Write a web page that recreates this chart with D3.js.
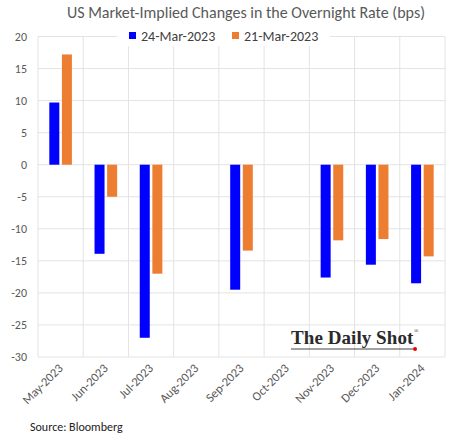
<!DOCTYPE html>
<html>
<head>
<meta charset="utf-8">
<script src="https://cdn.jsdelivr.net/npm/d3@7"></script>
<style>
  body { margin: 0; background: #fff; }
  svg { display: block; font-family: Calibri, Carlito, "Open Sans", sans-serif; }
</style>
</head>
<body>
<div id="chart"></div>
<script>
// Datos
const months = ["May-2023", "Jun-2023", "Jul-2023", "Aug-2023", "Sep-2023", "Oct-2023", "Nov-2023", "Dec-2023", "Jan-2024"];
const mar24 = [9.7, -13.9, -27.0, null, -19.5, null, -17.6, -15.6, -18.5];
const mar21 = [17.2, -5.0, -17.0, null, -13.4, null, -11.8, -11.6, -14.3];
const seriesNames = ["24-Mar-2023", "21-Mar-2023"];
const seriesColors = ["#0000ff", "#ed7d31"];
const yTicks = [20, 15, 10, 5, 0, -5, -10, -15, -20, -25, -30];

const width = 450, height = 436;
const margin = { top: 36.5, right: 5, bottom: 79, left: 38 };

const svg = d3.select("#chart").append("svg")
    .attr("width", width)
    .attr("height", height);

const x = d3.scaleBand()
    .domain(months)
    .range([margin.left, width - margin.right]);

const y = d3.scaleLinear()
    .domain([-30, 20])
    .range([height - margin.bottom, margin.top]);

const barW = 10, gap = 2.6;

// Cuadrícula horizontal
svg.append("g")
    .selectAll("line")
    .data(yTicks)
    .enter().append("line")
    .attr("x1", margin.left)
    .attr("x2", width - margin.right)
    .attr("y1", d => y(d))
    .attr("y2", d => y(d))
    .attr("stroke", "#e3e3e3")
    .attr("stroke-width", 1);

// Cuadrícula vertical (límites de categoría)
const bounds = months.map(m => x(m)).concat([width - margin.right]);
svg.append("g")
    .selectAll("line")
    .data(bounds)
    .enter().append("line")
    .attr("x1", d => d)
    .attr("x2", d => d)
    .attr("y1", y(20))
    .attr("y2", y(-30))
    .attr("stroke", "#e3e3e3")
    .attr("stroke-width", 1);

// Etiquetas del eje Y
svg.append("g")
    .selectAll("text")
    .data(yTicks)
    .enter().append("text")
    .attr("x", 27)
    .attr("y", d => y(d) + 4)
    .attr("text-anchor", "end")
    .attr("font-size", 12)
    .attr("fill", "#595959")
    .text(d => d);

// Barras
const series = [mar24, mar21];
series.forEach((vals, si) => {
    svg.append("g")
        .selectAll("rect")
        .data(months.map((m, i) => ({ m, v: vals[i] })).filter(d => d.v !== null))
        .enter().append("rect")
        .attr("x", d => x(d.m) + x.bandwidth() / 2 + (si === 0 ? -gap / 2 - barW : gap / 2))
        .attr("y", d => y(Math.max(0, d.v)))
        .attr("width", barW)
        .attr("height", d => Math.abs(y(d.v) - y(0)))
        .attr("fill", seriesColors[si]);
});

// Etiquetas del eje X (rotadas)
svg.append("g")
    .selectAll("text")
    .data(months)
    .enter().append("text")
    .attr("transform", d => `translate(${x(d) + x.bandwidth() / 2 + 3},${y(-30) + 12}) rotate(-45)`)
    .attr("text-anchor", "end")
    .attr("font-size", 12.5)
    .attr("fill", "#595959")
    .text(d => d);

// Título
svg.append("text")
    .attr("x", 246)
    .attr("y", 18)
    .attr("text-anchor", "middle")
    .attr("font-size", 16)
    .attr("fill", "#595959")
    .text("US Market-Implied Changes in the Overnight Rate (bps)");

// Leyenda
svg.append("rect")
    .attr("x", 117)
    .attr("y", 28)
    .attr("width", 213)
    .attr("height", 18)
    .attr("fill", "#fff");

const legendX = [129, 232];
seriesNames.forEach((name, i) => {
    svg.append("rect")
        .attr("x", legendX[i])
        .attr("y", 32)
        .attr("width", 7)
        .attr("height", 7)
        .attr("fill", seriesColors[i]);
    svg.append("text")
        .attr("x", legendX[i] + 12)
        .attr("y", 41)
        .attr("font-size", 14)
        .attr("fill", "#404040")
        .text(name);
});

// Logo
const logo = svg.append("g");
logo.append("text")
    .attr("x", 291)
    .attr("y", 344)
    .attr("font-family", "'Liberation Serif', 'Times New Roman', serif")
    .attr("font-size", 19)
    .attr("font-weight", "bold")
    .attr("letter-spacing", -0.3)
    .attr("fill", "#2a2a2a")
    .attr("textLength", 122)
    .text("The Daily Shot");
logo.append("text")
    .attr("x", 414)
    .attr("y", 333)
    .attr("font-family", "'Liberation Serif', serif")
    .attr("font-size", 6)
    .attr("fill", "#2a2a2a")
    .text("®");
logo.append("line")
    .attr("x1", 291).attr("x2", 413)
    .attr("y1", 349).attr("y2", 349)
    .attr("stroke", "#444").attr("stroke-width", 1);
logo.append("circle")
    .attr("cx", 415).attr("cy", 349).attr("r", 2)
    .attr("fill", "#e00");

// Fuente
svg.append("text")
    .attr("x", 30)
    .attr("y", 431)
    .attr("font-size", 12)
    .attr("fill", "#222")
    .text("Source: Bloomberg");
</script>
</body>
</html>
